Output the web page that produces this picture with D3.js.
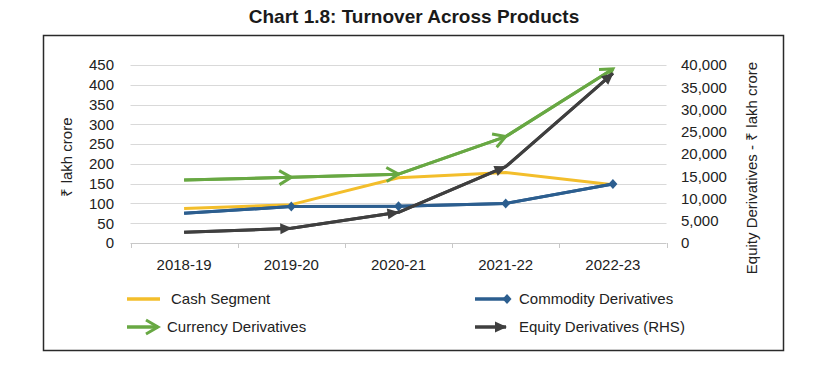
<!DOCTYPE html>
<html>
<head>
<meta charset="utf-8">
<script src="https://cdn.jsdelivr.net/npm/d3@7"></script>
<style>
  html, body { margin: 0; padding: 0; background: #fff; }
  svg { display: block; font-family: "Liberation Sans", Arial, sans-serif; }
</style>
</head>
<body>
<svg id="chart" width="830" height="377"></svg>
<script>
const title = "Chart 1.8: Turnover Across Products";
const categories = ["2018-19", "2019-20", "2020-21", "2021-22", "2022-23"];
const cashSegment = [87, 97, 165, 178, 147];
const commodityDerivatives = [75, 92, 93, 100, 149];
const currencyDerivatives = [159, 166, 174, 269, 440];
const equityDerivatives = [2400, 3300, 6900, 17150, 38100];
const leftTicks = [0, 50, 100, 150, 200, 250, 300, 350, 400, 450];
const rightTicks = [0, 5000, 10000, 15000, 20000, 25000, 30000, 35000, 40000];
const leftAxisTitle = "₹ lakh crore";
const rightAxisTitle = "Equity Derivatives - ₹ lakh crore";

const svg = d3.select("#chart");
const textColor = "#222";

const x = d3.scaleBand().domain(categories).range([130.5, 666.5]);
const yL = d3.scaleLinear().domain([0, 450]).range([243, 65]);
const yR = d3.scaleLinear().domain([0, 40000]).range([243, 65]);

// frame
svg.append("rect").attr("x", 43.5).attr("y", 35.5).attr("width", 740).attr("height", 315)
  .attr("fill", "none").attr("stroke", "#2a2a2a").attr("stroke-width", 1.5);

// title
svg.append("text").attr("x", 414).attr("y", 23).attr("text-anchor", "middle")
  .attr("font-size", 19).attr("font-weight", "bold").attr("fill", "#1a1a1a").text(title);

// gridlines
svg.append("g").selectAll("line").data(leftTicks).join("line")
  .attr("x1", 130.5).attr("x2", 666.5)
  .attr("y1", d => Math.round(yL(d)) + 0.5).attr("y2", d => Math.round(yL(d)) + 0.5)
  .attr("stroke", d => d === 0 ? "#c8c8c8" : "#d9d9d9").attr("stroke-width", 1);

// x axis ticks (band boundaries)
const bounds = categories.map(c => x(c)).concat([x(categories[categories.length - 1]) + x.bandwidth()]);
svg.append("g").selectAll("line").data(bounds).join("line")
  .attr("x1", d => Math.round(d) + 0.5).attr("x2", d => Math.round(d) + 0.5)
  .attr("y1", 243).attr("y2", 248).attr("stroke", "#c8c8c8");

// x labels
svg.append("g").selectAll("text").data(categories).join("text")
  .attr("x", d => x(d) + x.bandwidth() / 2).attr("y", 269.5)
  .attr("text-anchor", "middle").attr("font-size", 15).attr("fill", textColor).text(d => d);

// left tick labels
const axL = d3.axisLeft(yL).tickValues(leftTicks).tickSize(0).tickPadding(0);
const gL = svg.append("g").attr("transform", "translate(114,0)").call(axL);
gL.select(".domain").remove();
gL.selectAll("text").attr("font-size", 15).attr("fill", textColor).attr("font-family", null);

// right tick labels
const axR = d3.axisRight(yR).tickValues(rightTicks).tickSize(0).tickPadding(0).tickFormat(d3.format(","));
const gR = svg.append("g").attr("transform", "translate(681,0)").call(axR);
gR.select(".domain").remove();
gR.selectAll("text").attr("font-size", 15).attr("fill", textColor).attr("font-family", null);

// axis titles
svg.append("text").attr("transform", "translate(72,157) rotate(-90)")
  .attr("text-anchor", "middle").attr("font-size", 15).attr("fill", textColor).text(leftAxisTitle);
svg.append("text").attr("transform", "translate(757,168) rotate(-90)")
  .attr("text-anchor", "middle").attr("font-size", 15).attr("fill", textColor).text(rightAxisTitle);

// markers
const defs = svg.append("defs");
const colors = { cash: "#f3be2b", commodity: "#2c5e8f", currency: "#68a843", equity: "#3f3f3f" };
function marker(id, draw) {
  const m = defs.append("marker").attr("id", id)
    .attr("markerUnits", "userSpaceOnUse").attr("viewBox", "-16 -9 20 18")
    .attr("markerWidth", 20).attr("markerHeight", 18).attr("refX", 0).attr("refY", 0)
    .attr("orient", "auto").style("overflow", "visible");
  draw(m);
  return m;
}
marker("arrowOpen", m => m.append("path").attr("d", "M-12,-7 L0,0 L-12,7")
  .attr("fill", "none").attr("stroke", colors.currency).attr("stroke-width", 3)
  .attr("stroke-linejoin", "miter").attr("stroke-linecap", "butt"));
marker("arrowFill", m => m.append("path").attr("d", "M-11,-5.5 L1,0 L-11,5.5 Z")
  .attr("fill", colors.equity));
marker("diamond", m => m.append("path").attr("d", "M0,-5 L4.5,0 L0,5 L-4.5,0 Z")
  .attr("fill", colors.commodity)).attr("orient", "0");

const cx = c => x(c) + x.bandwidth() / 2;
const line = d3.line();

function drawSeries(values, yScale, color, markerId) {
  const pts = values.map((v, i) => [cx(categories[i]), yScale(v)]);
  const g = svg.append("g");
  g.append("path").attr("d", line(pts)).attr("fill", "none").attr("stroke", color)
    .attr("stroke-width", 3).attr("stroke-linejoin", "round").attr("stroke-linecap", "butt");
  if (markerId) {
    const segs = d3.pairs(pts);
    g.selectAll("path.seg").data(segs).join("path").attr("class", "seg")
      .attr("d", d => line(d)).attr("fill", "none").attr("stroke", color).attr("stroke-width", 3)
      .attr("marker-end", `url(#${markerId})`);
  }
}
drawSeries(cashSegment, yL, colors.cash, null);
drawSeries(commodityDerivatives, yL, colors.commodity, "diamond");
drawSeries(currencyDerivatives, yL, colors.currency, "arrowOpen");
drawSeries(equityDerivatives, yR, colors.equity, "arrowFill");

// legend
const legend = [
  { name: "Cash Segment", color: colors.cash, m: null, x1: 127, x2: 160, tx: 171, y: 299 },
  { name: "Commodity Derivatives", color: colors.commodity, m: "diamond", x1: 475, x2: 507, tx: 519, y: 299 },
  { name: "Currency Derivatives", color: colors.currency, m: "arrowOpen", x1: 127, x2: 158, tx: 167, y: 327 },
  { name: "Equity Derivatives (RHS)", color: colors.equity, m: "arrowFill", x1: 475, x2: 506, tx: 519, y: 327 }
];
const lg = svg.append("g");
legend.forEach(d => {
  const p = lg.append("path").attr("d", line([[d.x1, d.y], [d.x2, d.y]]))
    .attr("stroke", d.color).attr("stroke-width", 3.5).attr("fill", "none");
  if (d.m) p.attr("marker-end", `url(#${d.m})`);
  lg.append("text").attr("x", d.tx).attr("y", d.y).attr("dy", "0.35em")
    .attr("font-size", 15).attr("fill", textColor).text(d.name);
});
</script>
</body>
</html>
